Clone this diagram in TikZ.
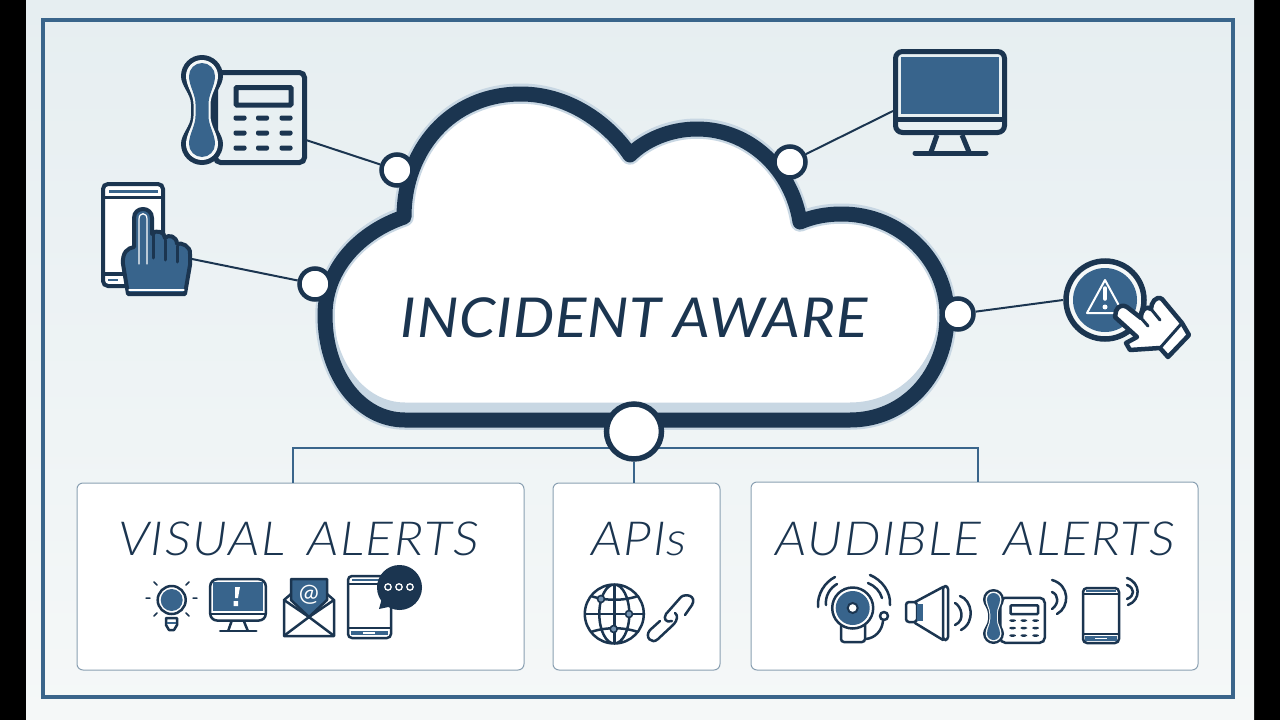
\documentclass[tikz,border=0pt]{standalone}
\usepackage{fontspec}
\setmainfont{Lato}
\newfontfamily\lightfont[LetterSpace=3,FakeStretch=1.1]{Lato Light}
\newfontfamily\cloudfont[LetterSpace=1.6,FakeStretch=1.06]{Lato}
\usetikzlibrary{positioning}
\definecolor{inkdark}{HTML}{1B3550}
\definecolor{inkblue}{HTML}{38648C}
\definecolor{inkpale}{HTML}{C8D7E3}
\definecolor{framecol}{HTML}{3A658B}
\definecolor{boxedge}{HTML}{8AA0B2}
\definecolor{bgtop}{HTML}{E6EEF1}
\definecolor{bgmid}{HTML}{EBF1F3}
\definecolor{bgbot}{HTML}{F5F8F8}
\newcommand{\cloudpath}{(405,420) .. controls (360,420) and (325,375) .. (325,315)
  .. controls (325,268) and (360,232) .. (404,217)
  .. controls (404,150) and (450,94) .. (521,94)
  .. controls (570,94) and (610,125) .. (630,155)
  .. controls (645,140) and (670,129) .. (697,129)
  .. controls (750,129) and (792,170) .. (800,222)
  .. controls (812,217) and (825,214) .. (842,214)
  .. controls (900,214) and (947,260) .. (947,315)
  .. controls (947,375) and (905,420) .. (850,420) -- cycle}
\newcommand{\handsetpath}[2]{(-41-#2,-14) .. controls (-41-#2,-24) and (-41-#1,-32) .. (-41-#1,-42)
  .. controls (-41-#1,-42-.55*#1) and (-41-.55*#1,-42-#1) .. (-41,-42-#1)
  .. controls (-41+.55*#1,-42-#1) and (-41+#1,-42-.55*#1) .. (-41+#1,-42)
  .. controls (-41+#1,-32) and (-41+#2,-24) .. (-41+#2,-14) -- (-41+#2,-2)
  .. controls (-41+#2,8) and (-41+#1,16) .. (-41+#1,26)
  .. controls (-41+#1,26+.55*#1) and (-41+.55*#1,26+#1) .. (-41,26+#1)
  .. controls (-41-.55*#1,26+#1) and (-41-#1,26+.55*#1) .. (-41-#1,26)
  .. controls (-41-#1,16) and (-41-#2,8) .. (-41-#2,-2) -- cycle}
\tikzset{
  iconline/.style={line width=5pt},
  dotnode/.style={circle,draw=inkdark,fill=white,line width=4.5pt,minimum size=31pt,inner sep=0pt},
  wire/.style={draw=inkdark,line width=2pt},
  treeline/.style={draw=framecol,line width=2pt},
  alertbox/.style={draw=boxedge,fill=white,line width=1pt,rounded corners=6pt,inner sep=0pt},
  boxtitle/.style={text=inkdark,inner sep=0pt,font=\lightfont\itshape\fontsize{47}{47}\selectfont},
  thin icon/.style={draw=inkdark,line width=2.5pt,line cap=round,line join=round},
  pics/deskphone/.style={code={
    \draw[inkdark,iconline,rounded corners=5pt] (-27.5,-45.5) rectangle (61.5,44.5);
    \draw[inkdark,iconline,rounded corners=1pt] (-7,-30.5) rectangle (48,-13);
    \foreach \kx in {-3,19.5,43} \foreach \ky in {0,15,30}
      \fill[inkdark,rounded corners=2pt] (\kx-6.5,\ky-2.5) rectangle (\kx+6.5,\ky+2.5);
    \fill[inkdark] \handsetpath{21}{11};
    \fill[bgbot] \handsetpath{16}{8.5};
    \fill[inkblue] \handsetpath{13}{6.5};
  }},
  pics/monitor/.style={code={
    \fill[inkblue] (-49,-46) rectangle (49,11);
    \draw[inkdark,iconline,rounded corners=7pt] (-54.5,-51.5) rectangle (54.5,29.5);
    \draw[inkdark,iconline] (-54.5,16.5) -- (54.5,16.5);
    \draw[inkdark,iconline] (-13,32) -- (-19,49) (12,32) -- (19,49);
    \draw[inkdark,iconline,line cap=round] (-35,50) -- (36,50);
  }}
}
\begin{document}
\begin{tikzpicture}[x=1pt,y=-1pt]
\useasboundingbox (0,0) rectangle (1280,720);
\fill[black] (0,0) rectangle (1280,720);
\shade[top color=bgtop,middle color=bgmid,bottom color=bgbot] (26,0) rectangle (1254,720);
\draw[framecol,line width=3.5pt] (43,20) rectangle (1233,697);
\coordinate (treeleft) at (293,448);
\coordinate (treeright) at (978,448);
\node[alertbox,minimum width=447pt,minimum height=187pt] (visualbox) at (300.5,576.5) {};
\node[alertbox,minimum width=167pt,minimum height=187pt] (apibox) at (636.5,576.5) {};
\node[alertbox,minimum width=447pt,minimum height=188pt] (audiblebox) at (974.5,576) {};
\draw[treeline] (visualbox.north -| treeleft) -- (treeleft) -- (treeright) -- (audiblebox.north -| treeright);
\fill[white] \cloudpath;
\begin{scope}
\clip \cloudpath;
\draw[inkpale,line width=15pt,line join=round,yshift=10pt] \cloudpath;
\end{scope}
\draw[inkpale,line width=19.5pt,line join=round] \cloudpath;
\draw[inkpale,line width=17pt,line join=round,yshift=2pt] \cloudpath;
\draw[inkdark,line width=15pt,line join=round] \cloudpath;
\node[text=inkdark,inner sep=0pt,font=\cloudfont\itshape\fontsize{55}{55}\selectfont] (cloudtitle) at (634,318) {INCIDENT\hspace{-.04em} AWARE};
\node[dotnode] (dotdesk) at (397,170) {};
\node[dotnode] (dotmobile) at (315,284) {};
\node[dotnode] (dotscreen) at (790,162) {};
\node[dotnode] (dotbutton) at (958,314) {};
\node[dotnode,minimum size=55pt,line width=5.5pt] (dotbottom) at (634,431.5) {};
\draw[treeline] (dotbottom) -- (apibox.north -| dotbottom);
\coordinate (deskedge) at (306,140);
\coordinate (mobileedge) at (192,259);
\coordinate (screenedge) at (893,111);
\coordinate (buttonedge) at (1063,300);
\draw[wire] (deskedge) -- (dotdesk);
\draw[wire] (mobileedge) -- (dotmobile);
\draw[wire] (screenedge) -- (dotscreen);
\draw[wire] (buttonedge) -- (dotbutton);
\pic at (243,118) {deskphone};
\pic at (950,103) {monitor};
\draw[inkdark,line width=4pt,fill=white,rounded corners=5pt] (103,184) rectangle (163,286);
\draw[inkblue,line width=3pt] (109,191) -- (158,191);
\draw[inkdark,line width=3.5pt] (103,197.5) -- (163,197.5);
\draw[inkdark,line width=3.5pt] (103,274) -- (125,274);
\draw[inkblue,line width=2pt] (108,280) -- (118,280);
\filldraw[draw=inkdark,fill=inkblue,line width=4pt,line join=round] (128,294) -- (123,264)
  .. controls (122,252) and (128,248) .. (134,247) -- (134,218)
  .. controls (134,206) and (152,206) .. (152,218) -- (152,234)
  .. controls (156,229) and (165,232) .. (165,238)
  .. controls (168,234) and (177,236) .. (177,244)
  .. controls (181,242) and (191,246) .. (190,254) -- (190,265) -- (185,294) -- cycle;
\draw[white,line width=1.2pt,line cap=round] (129,290) -- (184,290);
\draw[white,line width=1.2pt,line cap=round] (139,264) -- (139,219) .. controls (139,212) and (147,212) .. (147,219) -- (147,264);
\draw[inkdark,line width=3pt,line cap=round] (153,258) -- (153,234) (165,260) -- (165,240) (177,262) -- (177,246);
\draw[inkdark,line width=5.5pt,fill=bgbot] (1105,300) circle[radius=39];
\fill[inkblue] (1105,300) circle[radius=32];
\draw[white,line width=2pt,line join=round] (1105,280) -- (1087,313) -- (1123,313) -- cycle;
\draw[white,line width=3.5pt,line cap=round] (1105,288) -- (1105,299);
\fill[white] (1105,307) circle[radius=2.5];
\filldraw[draw=inkdark,fill=white,line width=4.5pt,line join=round] (1116,311)
  .. controls (1118,305) and (1124,305) .. (1127,307) -- (1141,318)
  .. controls (1141,310) and (1146,305) .. (1151,309)
  .. controls (1151,303) and (1156,295) .. (1162,299) -- (1182,323) -- (1189,335) -- (1168,357) -- (1160,348) -- (1130,350) -- (1126,343) -- (1137,337) -- (1115,317) -- cycle;
\draw[inkdark,line width=3pt,line cap=round] (1182,323) -- (1160,348) (1141,318) -- (1148,326) (1151,309) -- (1160,320);
\node[boxtitle] (visualtitle) at (298.5,539) {VISUAL\hspace{.16em} ALERTS};
\node[boxtitle] (apititle) at (639,539) {APIs};
\node[boxtitle] (audibletitle) at (975.5,539) {AUDIBLE\hspace{.16em} ALERTS};
% bulb
\draw[inkdark,line width=2.5pt,fill=white] (171.7,600) circle[radius=14];
\fill[inkblue] (171.7,600) circle[radius=11];
\draw[thin icon,fill=white] (166,618) -- (177,618) -- (177,625) -- (174,630) -- (169,630) -- (166,625) -- cycle;
\draw[inkblue,line width=2pt] (167,622.5) -- (176,622.5);
\draw[thin icon,line width=1.5pt] (146,598) -- (150,598) (193,598) -- (197,598) (154,582) -- (157,585) (189,582) -- (186,585) (154,616) -- (157,613) (189,616) -- (186,613);
\pic[scale=.51,iconline/.style={line width=2.5pt}] at (238,605.5) {monitor};
\fill[white] (235,587) -- (240,587) -- (238,598) -- (235,598) -- cycle (233.5,601) rectangle (238,606);
% envelope
\draw[thin icon,fill=inkblue] (291,600) -- (291,579) -- (327,579) -- (327,600) -- (309,617) -- cycle;
\node[text=white,inner sep=0pt,font=\fontsize{24}{24}\selectfont] (mailsign) at (309,595) {@};
\draw[thin icon] (291,594) -- (284,600) -- (284,636) -- (334,636) -- (334,600) -- (327,594);
\draw[thin icon] (284,600) -- (309,617) -- (334,600) (285,635) -- (309,617) -- (333,635);
% smartphone with bubble
\draw[thin icon,fill=white,rounded corners=4pt] (348,576) rectangle (391,638);
\draw[inkblue,line width=2pt] (352,580) -- (386,580);
\draw[inkdark,line width=2pt] (348,583.5) -- (391,583.5) (348,628) -- (391,628);
\fill[inkblue] (351,630.5) rectangle (388,635);
\draw[white,line width=1.5pt] (363,633) -- (375,633);
\fill[inkdark] (399.5,587.5) circle[radius=22.5];
\fill[inkdark] (382,598) -- (379,609) -- (393,606) -- cycle;
\foreach \bx in {388,399,410} \draw[white,line width=1.3pt] (\bx,587) circle[radius=3.2];
% globe and link
\draw[thin icon] (614.3,614) circle[radius=29.5] (614.3,614) ellipse[x radius=15,y radius=29.5];
\draw[thin icon] (614.3,584.5) -- (614.3,643.5) (585,614) -- (644,614);
\draw[thin icon] (591,596) .. controls (605,601) and (624,601) .. (638,596) (591,632) .. controls (605,627) and (624,627) .. (638,632);
\foreach \gx/\gy in {601/599,629/614,613.7/629} \draw[inkdark,line width=1.6pt,fill=inkblue!70] (\gx,\gy) circle[radius=3.5];
\draw[thin icon] (685,615) -- (692,605) .. controls (697,596) and (686,593) .. (681,597) -- (666,614) .. controls (663,619) and (666,623) .. (672,621);
\draw[thin icon] (660,621) -- (650,630) .. controls (644,637) and (652,645) .. (658,639) -- (673,625) .. controls (678,620) and (678,615) .. (675,613);
% bell
\draw[thin icon,rounded corners=3pt] (841,625) -- (841,642) -- (865,642) -- (865,625);
\draw[thin icon,fill=white] (852.7,608) circle[radius=20.5];
\fill[inkblue] (852.7,608) circle[radius=17];
\draw[inkdark,line width=2pt,fill=white] (852.7,608) circle[radius=5];
\draw[thin icon] (866,639) .. controls (875,638) and (882,631) .. (883,621);
\draw[thin icon] (884,616) circle[radius=4];
\draw[thin icon] (818,607) .. controls (817,594) and (825,582) .. (835,577) (826,605) .. controls (825,596) and (830,588) .. (837,584);
\draw[thin icon] (890,605) .. controls (891,592) and (882,580) .. (870,575) (882,598) .. controls (880,591) and (875,586) .. (868,583);
% speaker
\draw[thin icon,fill=white,rounded corners=3pt] (906,602) rectangle (917,622);
\fill[inkblue] (917,604) rectangle (923,621);
\draw[thin icon] (915,602) -- (943,587) (915,623) -- (943,640);
\draw[thin icon,fill=white,rounded corners=3pt] (943,586) rectangle (948,640);
\draw[thin icon] (955,603) .. controls (961,606) and (966,620) .. (955,625) (960,596) .. controls (972,600) and (976,622) .. (961,630);
\pic[scale=.5,iconline/.style={line width=2.5pt}] at (1014,620.5) {deskphone};
\draw[thin icon] (1052,580) .. controls (1070,585) and (1070,607) .. (1057,614) (1052,592) .. controls (1059,595) and (1059,604) .. (1052,609);
% tablet
\draw[thin icon,fill=white,rounded corners=4pt] (1083,588) rectangle (1119,643);
\draw[inkblue,line width=2pt] (1086,590.5) -- (1116,590.5);
\draw[inkdark,line width=2pt] (1083,593.5) -- (1119,593.5) (1083,634) -- (1119,634);
\fill[inkblue] (1085,636) rectangle (1117,641);
\draw[white,line width=1.5pt] (1095,638.5) -- (1107,638.5);
\draw[thin icon] (1127,578) .. controls (1141,583) and (1141,600) .. (1128,605) (1127,585) .. controls (1135,588) and (1135,596) .. (1127,599);
\end{tikzpicture}
\end{document}
